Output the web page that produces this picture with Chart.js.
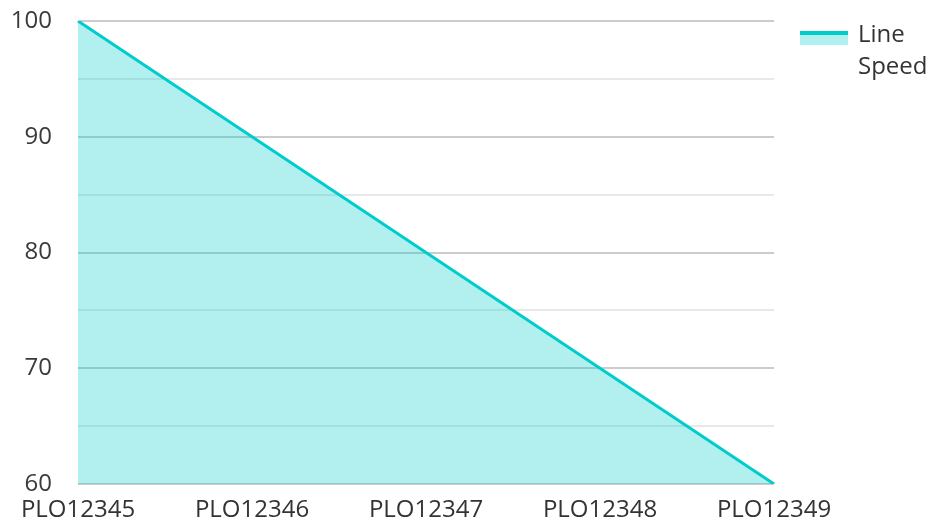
<!DOCTYPE html>
<html>
<head>
<meta charset="utf-8">
<script src="https://cdn.jsdelivr.net/npm/chart.js@4.4.1/dist/chart.umd.min.js"></script>
<style>
  html, body { margin:0; padding:0; background:#fff; }
  #wrap { position:relative; width:931px; height:524px; }
  #legend { position:absolute; left:800px; top:17px; display:flex; font-family:"Open Sans", sans-serif; font-size:24px; color:#333; }
  #legend .swatch { width:48px; height:14px; margin-top:14px; border-top:4px solid rgb(0,204,204); background:rgba(0,204,204,0.3); box-sizing:border-box; }
  #legend .txt { margin-left:10px; width:76px; line-height:32px; }
</style>
</head>
<body>
<div id="wrap">
  <canvas id="c" width="931" height="524"></canvas>
  <div id="legend"><div class="swatch"></div><div class="txt">Line Speed</div></div>
</div>
<script>
  // data
  const categories = ['PLO12345', 'PLO12346', 'PLO12347', 'PLO12348', 'PLO12349'];
  const lineSpeed = [100, 90, 80, 70, 60];
  const seriesName = 'Line Speed';
  const yMin = 60, yMax = 100, yStep = 5;

  const font = { family: '"Open Sans", sans-serif', size: 24 };

  new Chart(document.getElementById('c'), {
    type: 'line',
    data: {
      labels: categories,
      datasets: [{
        label: seriesName,
        data: lineSpeed,
        borderColor: 'rgb(0,204,204)',
        backgroundColor: 'rgba(0,204,204,0.3)',
        borderWidth: 3,
        fill: 'origin',
        pointRadius: 0,
        tension: 0
      }]
    },
    options: {
      responsive: false,
      animation: false,
      layout: { padding: { left: 0, right: 157, top: 21, bottom: 0 } },
      plugins: { legend: { display: false }, tooltip: { enabled: false } },
      scales: {
        x: {
          offset: false,
          grid: { display: false, drawTicks: false },
          border: { display: false },
          ticks: { font, color: '#333', padding: 12, maxRotation: 0 },
          afterFit: s => { s.height = 40; }
        },
        y: {
          min: yMin, max: yMax,
          grid: {
            drawTicks: false,
            color: ctx => (ctx.tick && ctx.tick.value % 10 === 0) ? '#cccccc' : '#e8e8e8',
            lineWidth: 2
          },
          border: { display: false },
          ticks: {
            stepSize: yStep, font, color: '#3a3a3a', padding: 26,
            callback: v => v % 10 === 0 ? v : ''
          },
          afterFit: s => { s.width = 78; s.paddingTop = 0; s.paddingBottom = 0; }
        }
      }
    }
  });
</script>
</body>
</html>
